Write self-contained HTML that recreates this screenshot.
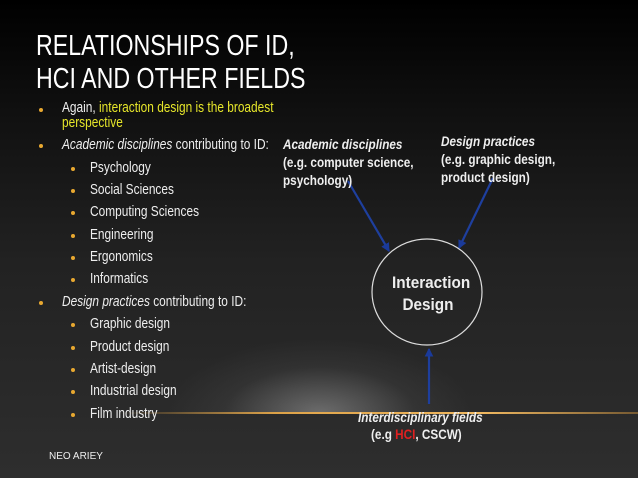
<!DOCTYPE html>
<html><head><meta charset="utf-8"><style>
html,body{margin:0;padding:0;width:638px;height:478px;overflow:hidden}
body{position:relative;font-family:"Liberation Sans",sans-serif;color:#eee;
background:linear-gradient(180deg,#000 0%,#111 25%,#222 55%,#2e2e2e 100%);}
.glow{position:absolute;left:170px;top:340px;width:300px;height:74px;background:radial-gradient(ellipse at 50% 100%,rgba(190,190,190,0.45),rgba(120,120,120,0.12) 45%,rgba(0,0,0,0) 72%);}
.ln{position:absolute;left:120px;top:412px;width:518px;height:2px;background:linear-gradient(90deg,rgba(230,160,60,0),rgba(235,170,70,0.9) 30%,#f0b860 70%,rgba(230,160,60,0.4));}
.t{position:absolute;white-space:nowrap;transform-origin:0 0;transform:scaleX(0.82);}
.title{font-size:29px;left:36px;color:#fff;transform:scaleX(0.8)}
.b{font-size:14.5px}
.dot{position:absolute;width:4px;height:4px;border-radius:50%;background:#e8a830}
.y{color:#e6e62a}
.bd{font-weight:bold;font-size:13.5px;transform:scaleX(0.87)}
</style></head><body>
<div class="glow"></div>
<div class="ln"></div>
<div class="t title" style="top:30px">RELATIONSHIPS OF ID,</div>
<div class="t title" style="top:63px">HCI AND OTHER FIELDS</div>

<div class="dot" style="left:39px;top:108px"></div>
<div class="t b" style="left:62px;top:100px">Again, <span class="y">interaction design is the broadest</span></div>
<div class="t b y" style="left:62px;top:115px">perspective</div>
<div class="dot" style="left:39px;top:144px"></div>
<div class="t b" style="left:62px;top:137px"><i>Academic disciplines</i> contributing to ID:</div>
<div class="dot" style="left:71px;top:167px"></div><div class="t b" style="left:90px;top:160px">Psychology</div>
<div class="dot" style="left:71px;top:189px"></div><div class="t b" style="left:90px;top:182px">Social Sciences</div>
<div class="dot" style="left:71px;top:211px"></div><div class="t b" style="left:90px;top:204px">Computing Sciences</div>
<div class="dot" style="left:71px;top:234px"></div><div class="t b" style="left:90px;top:227px">Engineering</div>
<div class="dot" style="left:71px;top:256px"></div><div class="t b" style="left:90px;top:249px">Ergonomics</div>
<div class="dot" style="left:71px;top:278px"></div><div class="t b" style="left:90px;top:271px">Informatics</div>
<div class="dot" style="left:39px;top:301px"></div>
<div class="t b" style="left:62px;top:294px"><i>Design practices</i> contributing to ID:</div>
<div class="dot" style="left:71px;top:323px"></div><div class="t b" style="left:90px;top:316px">Graphic design</div>
<div class="dot" style="left:71px;top:346px"></div><div class="t b" style="left:90px;top:339px">Product design</div>
<div class="dot" style="left:71px;top:368px"></div><div class="t b" style="left:90px;top:361px">Artist-design</div>
<div class="dot" style="left:71px;top:390px"></div><div class="t b" style="left:90px;top:383px">Industrial design</div>
<div class="dot" style="left:71px;top:413px"></div><div class="t b" style="left:90px;top:406px">Film industry</div>
<div class="t" style="left:49px;top:451px;font-size:10px;transform:none">NEO ARIEY</div>

<svg width="638" height="478" style="position:absolute;left:0;top:0">
<defs><marker id="a" markerWidth="4" markerHeight="4" refX="3.5" refY="2" orient="auto"><path d="M0,0L4,2L0,4z" fill="#1a3a9a"/></marker></defs>
<line x1="348" y1="181" x2="389" y2="251" stroke="#1e3f9e" stroke-width="2.2" marker-end="url(#a)"/>
<line x1="493" y1="178" x2="459" y2="248" stroke="#1e3f9e" stroke-width="2.2" marker-end="url(#a)"/>
<line x1="429" y1="404" x2="429" y2="349" stroke="#1e3f9e" stroke-width="2.2" marker-end="url(#a)"/>
<ellipse cx="427" cy="292" rx="55" ry="53" fill="none" stroke="#ddd" stroke-width="1.2"/>
</svg>
<div class="t bd" style="left:387px;top:272px;font-size:17px;text-align:center;width:80px;transform:scaleX(0.9);transform-origin:50% 0;line-height:22px;left:388px">Interaction<br>Design</div>
<div class="t bd" style="left:283px;top:136px;line-height:18px"><i>Academic disciplines</i><br>(e.g. computer science,<br>psychology)</div>
<div class="t bd" style="left:441px;top:133px;line-height:18px"><i>Design practices</i><br>(e.g. graphic design,<br>product design)</div>
<div class="t bd" style="left:358px;top:409px;line-height:18px"><i>Interdisciplinary fields</i></div>
<div class="t bd" style="left:371px;top:427px">(e.g <span style="color:#e02020">HCI</span>, CSCW)</div>
</body></html>
